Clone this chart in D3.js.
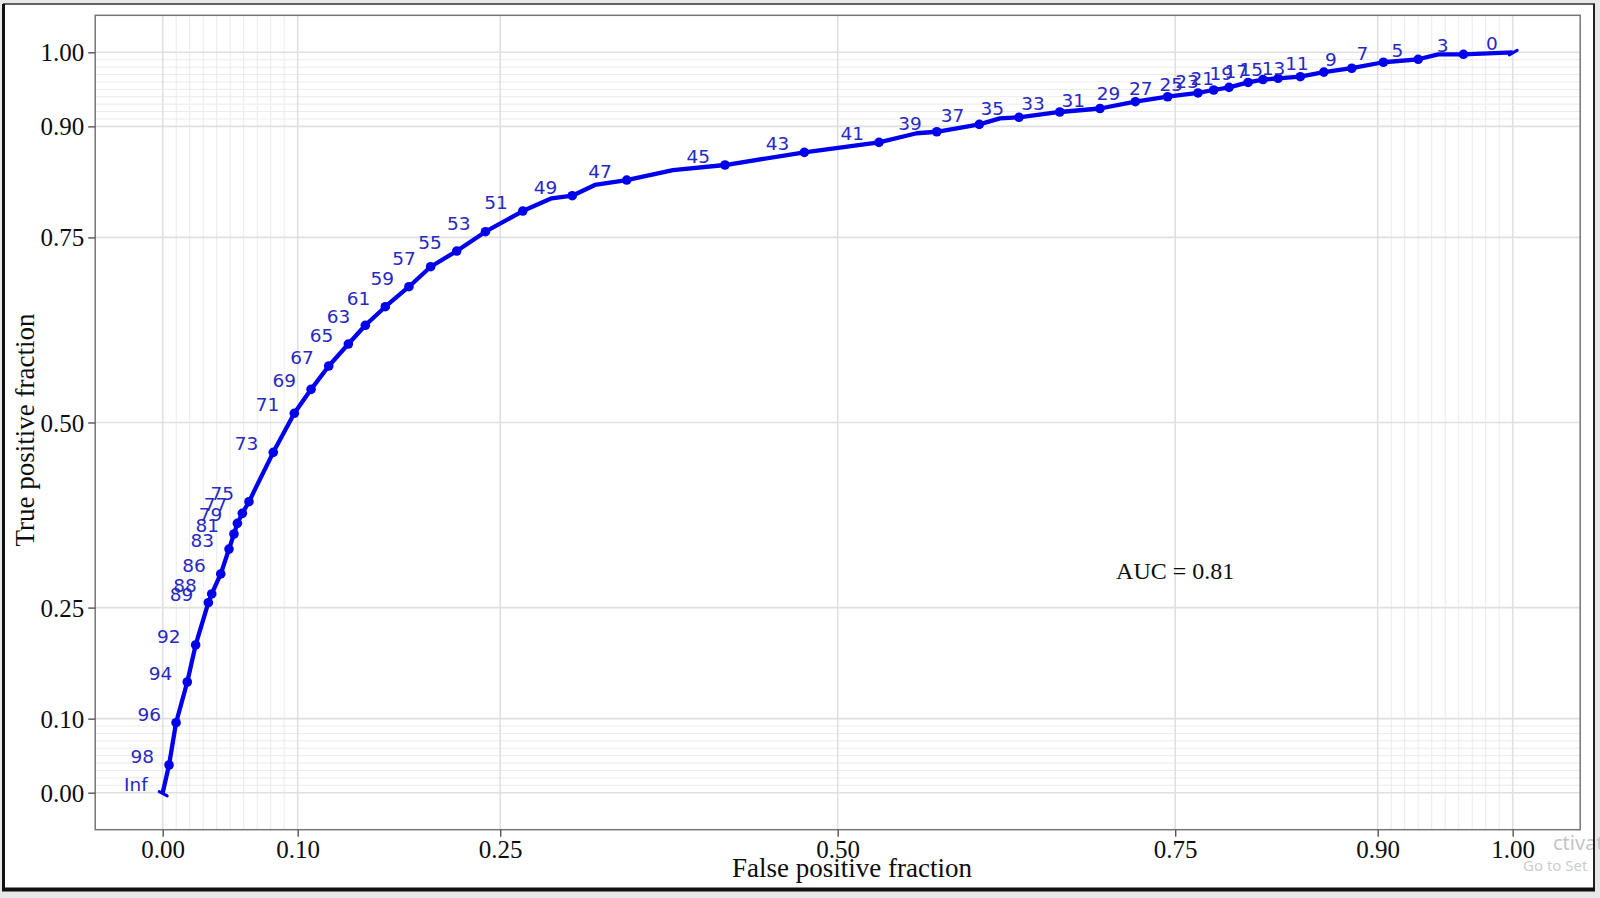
<!DOCTYPE html>
<html>
<head>
<meta charset="utf-8">
<script src="https://cdnjs.cloudflare.com/ajax/libs/d3/7.8.5/d3.min.js"></script>
<style>
  body { margin: 0; background: #e8e8e8; }
  svg { display: block; }
</style>
</head>
<body>
<svg width="1600" height="898"></svg>
<script>
// ROC curve vertices (false positive fraction, true positive fraction) and cutoff labels
var fpr = [0, 0.0047, 0.0099, 0.0182, 0.0244, 0.0338, 0.0363, 0.043, 0.0491, 0.0528, 0.0553, 0.059, 0.0639,
           0.0819, 0.0975, 0.1099, 0.123, 0.1375, 0.1501, 0.1649, 0.1824, 0.1985, 0.2178, 0.2391, 0.2667,
           0.2881, 0.3034, 0.3201, 0.3437, 0.378, 0.4165, 0.4753, 0.5306, 0.5585, 0.5734, 0.6049, 0.6202,
           0.6343, 0.6645, 0.6943, 0.7205, 0.7444, 0.7669, 0.7785, 0.7899, 0.804, 0.815, 0.8262, 0.8427,
           0.8601, 0.8808, 0.9042, 0.93, 0.9449, 0.9635, 1];
var tpr = [0, 0.0374, 0.0945, 0.1495, 0.1995, 0.2566, 0.2684, 0.2954, 0.329, 0.3494, 0.3638, 0.3773, 0.393,
           0.4597, 0.5124, 0.5448, 0.5763, 0.606, 0.6313, 0.6564, 0.6834, 0.7104, 0.7316, 0.7577, 0.7856,
           0.8028, 0.8063, 0.8208, 0.8275, 0.8409, 0.8478, 0.8649, 0.8784, 0.8907, 0.8927, 0.9027, 0.9108,
           0.9122, 0.9194, 0.9241, 0.9333, 0.94, 0.9451, 0.9491, 0.9527, 0.9593, 0.9632, 0.9649, 0.9671,
           0.9733, 0.9785, 0.9866, 0.9906, 0.9973, 0.9973, 1];
var cutoff = ["Inf", "98", "96", "94", "92", "89", "88", "86", "83", "81", "79", "77", "75",
              "73", "71", "69", "67", "65", "63", "61", "59", "57", "55", "53", "51",
              null, "49", null, "47", null, "45", "43", "41", null, "39", "37", null,
              "35", "33", "31", "29", "27", "25", "23", "21", "19", "17", "15", "13",
              "11", "9", "7", "5", null, "3", "0"];

var majorBreaks = [0, 0.1, 0.25, 0.5, 0.75, 0.9, 1];
var breakLabels = ["0.00", "0.10", "0.25", "0.50", "0.75", "0.90", "1.00"];
var minorBreaks = [0.01, 0.02, 0.03, 0.04, 0.05, 0.06, 0.07, 0.08, 0.09,
                   0.91, 0.92, 0.93, 0.94, 0.95, 0.96, 0.97, 0.98, 0.99];
var aucLabel = "AUC = 0.81";

var svg = d3.select("svg");
var serif = "'Liberation Serif', 'Times New Roman', serif";

// page / screenshot frame
svg.append("rect").attr("x", 0).attr("y", 0).attr("width", 1600).attr("height", 898).attr("fill", "#e8e8e8");
svg.append("rect").attr("x", 3).attr("y", 4).attr("width", 1591).attr("height", 886).attr("fill", "white");

var x = d3.scaleLinear().domain([-0.05, 1.05]).range([95.2, 1580.2]);
var y = d3.scaleLinear().domain([-0.05, 1.05]).range([829.7, 15.3]);

var panel = svg.append("g");

// grid
panel.selectAll("line.minx").data(minorBreaks).enter().append("line")
    .attr("class", "minx")
    .attr("x1", function (d) { return x(d); }).attr("x2", function (d) { return x(d); })
    .attr("y1", y.range()[0]).attr("y2", y.range()[1])
    .style("stroke", "#ebebeb").style("stroke-width", 1);
panel.selectAll("line.miny").data(minorBreaks).enter().append("line")
    .attr("class", "miny")
    .attr("y1", function (d) { return y(d); }).attr("y2", function (d) { return y(d); })
    .attr("x1", x.range()[0]).attr("x2", x.range()[1])
    .style("stroke", "#ebebeb").style("stroke-width", 1);
panel.selectAll("line.majx").data(majorBreaks).enter().append("line")
    .attr("class", "majx")
    .attr("x1", function (d) { return x(d); }).attr("x2", function (d) { return x(d); })
    .attr("y1", y.range()[0]).attr("y2", y.range()[1])
    .style("stroke", "#e0e0e0").style("stroke-width", 1.6);
panel.selectAll("line.majy").data(majorBreaks).enter().append("line")
    .attr("class", "majy")
    .attr("y1", function (d) { return y(d); }).attr("y2", function (d) { return y(d); })
    .attr("x1", x.range()[0]).attr("x2", x.range()[1])
    .style("stroke", "#e0e0e0").style("stroke-width", 1.6);

panel.append("rect")
    .attr("x", x.range()[0]).attr("y", y.range()[1])
    .attr("width", x.range()[1] - x.range()[0]).attr("height", y.range()[0] - y.range()[1])
    .style("fill", "none").style("stroke", "#767676").style("stroke-width", 1.5);

// axes
var xAxis = svg.append("g").attr("transform", "translate(0," + y.range()[0] + ")")
    .call(d3.axisBottom(x).tickValues(majorBreaks)
        .tickFormat(function (d, i) { return breakLabels[i]; }).tickSize(7).tickSizeOuter(0));
var yAxis = svg.append("g").attr("transform", "translate(" + x.range()[0] + ",0)")
    .call(d3.axisLeft(y).tickValues(majorBreaks)
        .tickFormat(function (d, i) { return breakLabels[i]; }).tickSize(7).tickPadding(4).tickSizeOuter(0));
[xAxis, yAxis].forEach(function (a) {
    a.select(".domain").remove();
    a.selectAll(".tick line").style("stroke", "#555").style("stroke-width", 1.4);
    a.selectAll(".tick text").style("font-family", serif).style("font-size", "25px").style("fill", "#0d0d0d");
});
xAxis.selectAll(".tick text").attr("dy", null).attr("y", 28.5);
yAxis.selectAll(".tick text").attr("dy", "0.34em");

svg.append("text").attr("x", 852).attr("y", 877)
    .attr("text-anchor", "middle")
    .style("font-family", serif).style("font-size", "27px").style("fill", "#0d0d0d")
    .text("False positive fraction");
svg.append("text").attr("transform", "translate(34,430) rotate(-90)")
    .attr("text-anchor", "middle")
    .style("font-family", serif).style("font-size", "27px").style("fill", "#0d0d0d")
    .text("True positive fraction");

// ROC curve
var pts = fpr.map(function (d, i) { return { x: d, y: tpr[i], label: cutoff[i], i: i }; });
var line = d3.line().x(function (d) { return x(d.x); }).y(function (d) { return y(d.y); });

svg.append("path").datum(pts).attr("d", line)
    .style("fill", "none").style("stroke", "#0000ec").style("stroke-width", 4.3)
    .style("stroke-linejoin", "round");

var dots = pts.filter(function (d) { return d.label !== null && d.i > 0 && d.i < pts.length - 1; });
svg.selectAll("circle.cut").data(dots).enter().append("circle")
    .attr("class", "cut")
    .attr("cx", function (d) { return x(d.x); })
    .attr("cy", function (d) { return y(d.y); })
    .attr("r", 4.8)
    .style("fill", "#0000ec");

// little end markers at (0,0) and (1,1)
var ends = [pts[0], pts[pts.length - 1]];
svg.selectAll("line.end").data(ends).enter().append("line")
    .attr("class", "end")
    .attr("x1", function (d) { return x(d.x) - 3.5; })
    .attr("x2", function (d) { return x(d.x) + 4.5; })
    .attr("y1", function (d, i) { return y(d.y) + (i === 0 ? -1 : 2.5); })
    .attr("y2", function (d, i) { return y(d.y) + (i === 0 ? 3.2 : -2); })
    .style("stroke", "#0000ec").style("stroke-width", 3).style("stroke-linecap", "round");

svg.selectAll("text.cut").data(pts.filter(function (d) { return d.label !== null; })).enter().append("text")
    .attr("class", "cut")
    .attr("x", function (d) { return x(d.x) - 15; })
    .attr("y", function (d) { return y(d.y) - 2; })
    .attr("text-anchor", "end")
    .style("font-family", "'DejaVu Sans', sans-serif").style("font-size", "18.5px")
    .style("fill", "#2828c2")
    .text(function (d) { return d.label; });

svg.append("text").attr("x", x(0.75)).attr("y", y(0.3) + 8)
    .attr("text-anchor", "middle")
    .style("font-family", serif).style("font-size", "24px").style("fill", "#0d0d0d")
    .text(aucLabel);

// faint OS watermark in the lower right corner, cut by the screenshot edge
svg.append("text").attr("x", 1553).attr("y", 850)
    .style("font-family", "'Noto Sans', sans-serif").style("font-size", "20px").style("fill", "#c4c4c4")
    .text("ctivate");
svg.append("text").attr("x", 1523).attr("y", 871)
    .style("font-family", "'Noto Sans', sans-serif").style("font-size", "15px").style("fill", "#cdcdcd")
    .text("Go to Set");

// screenshot frame edges
svg.append("line").attr("x1", 3).attr("x2", 1595).attr("y1", 4).attr("y2", 4)
    .style("stroke", "#333").style("stroke-width", 1.5);
svg.append("line").attr("x1", 3.5).attr("x2", 3.5).attr("y1", 4).attr("y2", 891)
    .style("stroke", "#111").style("stroke-width", 3);
svg.append("line").attr("x1", 1594).attr("x2", 1594).attr("y1", 4).attr("y2", 891)
    .style("stroke", "#222").style("stroke-width", 2);
svg.append("line").attr("x1", 2).attr("x2", 1595).attr("y1", 889.5).attr("y2", 889.5)
    .style("stroke", "#111").style("stroke-width", 4);
</script>
</body>
</html>
